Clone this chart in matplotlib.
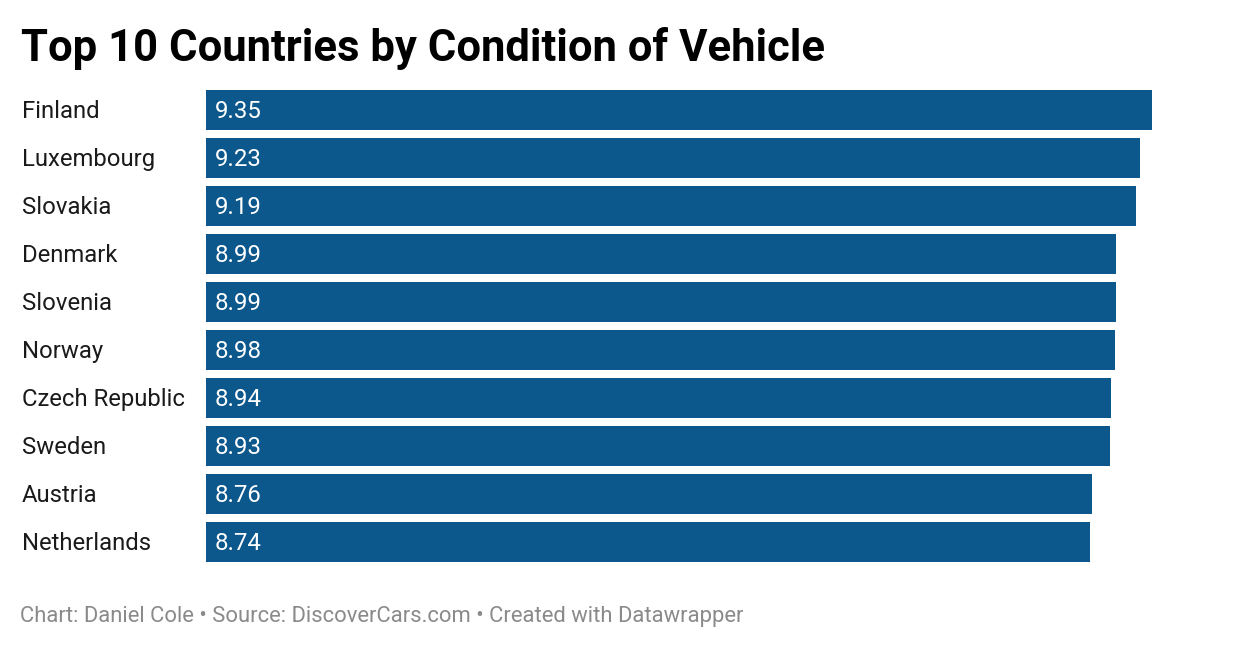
import matplotlib
matplotlib.use("Agg")
import matplotlib.pyplot as plt
import matplotlib.transforms as mtransforms

countries = ["Finland", "Luxembourg", "Slovakia", "Denmark", "Slovenia",
             "Norway", "Czech Republic", "Sweden", "Austria", "Netherlands"]
scores = [9.35, 9.23, 9.19, 8.99, 8.99, 8.98, 8.94, 8.93, 8.76, 8.74]
value_labels = ["9.35", "9.23", "9.19", "8.99", "8.99", "8.98", "8.94", "8.93", "8.76", "8.74"]

title = "Top 10 Countries by Condition of Vehicle"
footer = "Chart: Daniel Cole \u2022 Source: DiscoverCars.com \u2022 Created with Datawrapper"

plt.rcParams['font.family'] = ['Roboto', 'DejaVu Sans']

W, H = 1240, 648
fig = plt.figure(figsize=(W / 100, H / 100), dpi=100)
fig.patch.set_facecolor("white")

bar_color = "#0c588c"
ax_left, ax_right = 206, 1152
ax_top, ax_bottom = 90, 562
ax = fig.add_axes([ax_left / W, 1 - ax_bottom / H, (ax_right - ax_left) / W, (ax_bottom - ax_top) / H])

n = len(countries)
ypos = list(range(n))
ax.barh(ypos, scores, height=40 / 48, color=bar_color, left=0)
ax.set_xlim(0, max(scores))
ax.set_ylim(n - 1 + 0.5 * 40 / 48, -0.5 * 40 / 48)
ax.axis("off")

# country labels
blend = mtransforms.blended_transform_factory(fig.transFigure, ax.transData)
lab_trans = mtransforms.offset_copy(blend, fig=fig, x=0, y=-8, units="dots")
for i, c in enumerate(countries):
    ax.text(22 / W, i, c, transform=lab_trans, fontsize=17.2, color="#1a1a1a",
            ha="left", va="baseline", clip_on=False)

val_trans = mtransforms.offset_copy(ax.transData, fig=fig, x=9, y=-8, units="dots")
for i, v in enumerate(value_labels):
    ax.text(0, i, v, transform=val_trans, fontsize=17.3, color="white",
            ha="left", va="baseline")

fig.text(21 / W, 1 - 61 / H, title, fontsize=31.4, fontweight="bold",
         color="#000000", ha="left", va="baseline")
fig.text(20.5 / W, 1 - 622 / H, footer, fontsize=15.85, color="#8a8a8a",
         ha="left", va="baseline")

fig.savefig("out.png", dpi=100, facecolor="white")
